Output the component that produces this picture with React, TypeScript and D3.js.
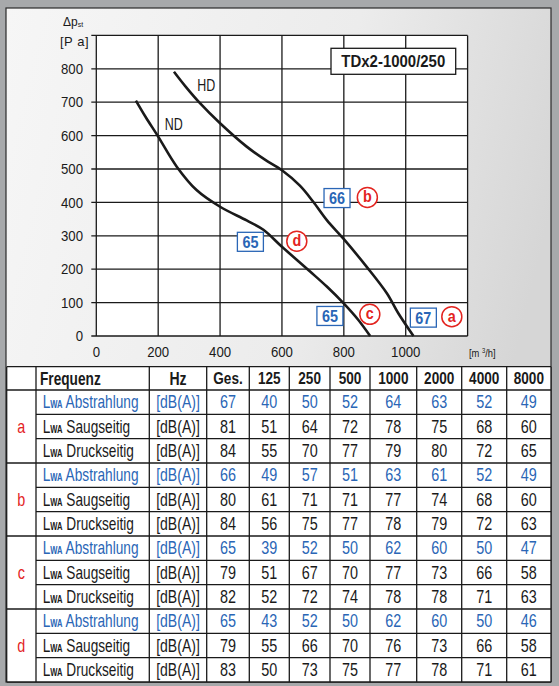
import React from "react";
import * as d3 from "d3";

// ---------- chart data ----------
const flowTicks = [0, 200, 400, 600, 800, 1000];
const flowGrid = [0, 200, 400, 600, 800, 1000, 1200];
const pressureTicks = [0, 100, 200, 300, 400, 500, 600, 700, 800];
const pressureGrid = [0, 100, 200, 300, 400, 500, 600, 700, 800, 900];

// HD curve (flow m3/h, pressure Pa)
const hdCurve: [number, number][] = [
  [251, 791], [290, 745], [335, 697], [400, 637], [486, 567], [545, 528],
  [599, 497], [658, 450], [701, 402], [745, 347], [798, 292], [874, 207],
  [939, 128], [976, 68], [1025, 0],
];
// ND curve
const ndCurve: [number, number][] = [
  [128, 705], [160, 655], [200, 597], [260, 507], [324, 437], [400, 387],
  [486, 346], [540, 318], [599, 268], [691, 193], [745, 148],
  [798, 99], [845, 50], [885, 0],
];
const curveNames = ["HD", "ND"];
const curveNamePos: [number, number][] = [[355, 749], [250, 633]];

// operating point annotations
const pointIds = ["a", "b", "c", "d"];
const pointLevels = [67, 66, 65, 65];
const pointBox: [number, number][] = [[1057, 55], [778, 413], [755, 60], [498, 282]];
const pointCircle: [number, number][] = [[1149, 58], [876, 415], [884, 65], [648, 284]];

// ---------- table data ----------
const bandHeaders = ["Ges.", "125", "250", "500", "1000", "2000", "4000", "8000"];
const rowLabels = ["Abstrahlung", "Saugseitig", "Druckseitig"];
const lwaA = [
  [67, 40, 50, 52, 64, 63, 52, 49],
  [81, 51, 64, 72, 78, 75, 68, 60],
  [84, 55, 70, 77, 79, 80, 72, 65],
];
const lwaB = [
  [66, 49, 57, 51, 63, 61, 52, 49],
  [80, 61, 71, 71, 77, 74, 68, 60],
  [84, 56, 75, 77, 78, 79, 72, 63],
];
const lwaC = [
  [65, 39, 52, 50, 62, 60, 50, 47],
  [79, 51, 67, 70, 77, 73, 66, 58],
  [82, 52, 72, 74, 78, 78, 71, 63],
];
const lwaD = [
  [65, 43, 52, 50, 62, 60, 50, 46],
  [79, 55, 66, 70, 76, 73, 66, 58],
  [83, 50, 73, 75, 77, 78, 71, 61],
];
const groupTables = [lwaA, lwaB, lwaC, lwaD];

// ---------- style ----------
const FONT = "'Liberation Sans', Arial, Helvetica, sans-serif";
const BLUE = "#2a66b6";
const RED = "#e3241f";
const INK = "#1a1a1a";

const W = 559;
const H = 686;

type TProps = {
  x: number; y: number; sx?: number; size?: number; weight?: string | number;
  fill?: string; anchor?: "start" | "middle" | "end"; children: React.ReactNode;
};
function T({ x, y, sx = 0.78, size = 18, weight = "normal", fill = INK, anchor = "middle", children }: TProps) {
  return (
    <text
      transform={`translate(${x},${y}) scale(${sx},1)`}
      textAnchor={anchor}
      fontSize={size}
      fontWeight={weight}
      fill={fill}
      fontFamily={FONT}
      dy="0.35em"
    >
      {children}
    </text>
  );
}

export default function App() {
  const x = d3.scaleLinear().domain([0, 1200]).range([96.3, 467.6]);
  const y = d3.scaleLinear().domain([0, 900]).range([336, 35.4]);
  const line = d3
    .line<[number, number]>()
    .x((d) => x(d[0]))
    .y((d) => y(d[1]))
    .curve(d3.curveCatmullRom.alpha(0.5));

  // table layout
  const colEdges = [6.7, 36, 149.3, 206.7, 249.3, 289.3, 330, 370, 416.7, 461.7, 506.7, 551];
  const tableTop = 366.7;
  const headerBottom = 390;
  const tableBottom = 682;
  const nRows = 12;
  const rowH = (tableBottom - headerBottom) / nRows;
  const colCenter = (i: number) => (colEdges[i] + colEdges[i + 1]) / 2;

  return (
    <svg width={W} height={H} style={{ position: "absolute", left: 0, top: 0 }} fontFamily={FONT}>
      <defs>
        <linearGradient id="panelGrad" x1="0" y1="0" x2="1" y2="0.3">
          <stop offset="0" stopColor="#f6f6f6" />
          <stop offset="0.6" stopColor="#ececec" />
          <stop offset="1" stopColor="#d6d6d6" />
        </linearGradient>
      </defs>
      <rect x={0} y={0} width={W} height={H} fill="#a7a9ab" />
      <rect x={6} y={8} width={545} height={674} fill="url(#panelGrad)" stroke="#2a2a2a" strokeWidth={1.2} />

      {/* plot area */}
      <rect x={x(0)} y={y(900)} width={x(1200) - x(0)} height={y(0) - y(900)} fill="#ffffff" />
      {flowGrid.map((v) => (
        <line key={"vx" + v} x1={x(v)} x2={x(v)} y1={y(0)} y2={y(900)} stroke={INK} strokeWidth={1.3} />
      ))}
      {pressureGrid.map((v) => (
        <line key={"hy" + v} x1={x(0) - 5} x2={x(1200)} y1={y(v)} y2={y(v)} stroke={INK} strokeWidth={1.3} />
      ))}

      {/* tick labels */}
      {pressureTicks.map((v) => (
        <T key={"yl" + v} x={83} y={y(v)} size={15} sx={0.88} anchor="end">{v}</T>
      ))}
      {flowTicks.map((v) => (
        <T key={"xl" + v} x={x(v)} y={352} size={15} sx={0.88}>{v}</T>
      ))}
      <text x={469} y={357} fontSize={11} fill={INK} fontFamily={FONT} transform="translate(469,0) scale(0.85,1) translate(-469,0)">
        [m <tspan fontSize={7} dy={-4}>3</tspan><tspan dy={4}>/h]</tspan>
      </text>
      <text x={63} y={26} fontSize={12} fill={INK} fontFamily={FONT}>
        Δp<tspan fontSize={7} dy={1}>st</tspan>
      </text>
      <text x={60} y={46} fontSize={13} fill={INK} fontFamily={FONT} letterSpacing={0.5}>[P a]</text>

      {/* curves */}
      <path d={line(hdCurve) || ""} fill="none" stroke={INK} strokeWidth={2.6} />
      <path d={line(ndCurve) || ""} fill="none" stroke={INK} strokeWidth={2.6} />
      {curveNames.map((n, i) => (
        <T key={n} x={x(curveNamePos[i][0])} y={y(curveNamePos[i][1])} size={16} sx={0.78}>{n}</T>
      ))}

      {/* title box */}
      <rect x={331} y={48.3} width={124.7} height={26} fill="#ffffff" stroke={INK} strokeWidth={1.3} />
      <T x={393.3} y={61.5} size={17} weight="bold" sx={0.88}>TDx2-1000/250</T>

      {/* annotations */}
      {pointIds.map((id, i) => {
        const bx = x(pointBox[i][0]);
        const by = y(pointBox[i][1]);
        const cx = x(pointCircle[i][0]);
        const cy = y(pointCircle[i][1]);
        return (
          <g key={"pt" + id}>
            <rect x={bx - 13} y={by - 9.5} width={26} height={19} fill="#ffffff" stroke={BLUE} strokeWidth={1.3} />
            <T x={bx} y={by + 0.5} size={16} weight="bold" fill={BLUE} sx={0.9}>{pointLevels[i]}</T>
            <circle cx={cx} cy={cy} r={10} fill="#ffffff" stroke={RED} strokeWidth={1.5} />
            <T x={cx} y={cy - 0.5} size={16} weight="bold" fill={RED} sx={0.9}>{id}</T>
          </g>
        );
      })}

      {/* table */}
      <rect x={colEdges[0]} y={tableTop} width={colEdges[11] - colEdges[0]} height={tableBottom - tableTop} fill="#ffffff" />
      {d3.range(nRows + 2).map((k) => {
        const yy = k === 0 ? tableTop : headerBottom + (k - 1) * rowH;
        const isGroupEdge = k === 0 || k === 1 || (k - 1) % 3 === 0;
        return (
          <line
            key={"th" + k}
            x1={isGroupEdge ? colEdges[0] : colEdges[1]}
            x2={colEdges[11]}
            y1={yy}
            y2={yy}
            stroke={INK}
            strokeWidth={1.3}
          />
        );
      })}
      {colEdges.map((cx, i) => (
        <line key={"tv" + i} x1={cx} x2={cx} y1={tableTop} y2={tableBottom} stroke={INK} strokeWidth={1.3} />
      ))}

      {/* header */}
      <T x={40} y={(tableTop + headerBottom) / 2} size={18} weight="bold" sx={0.76} anchor="start">Frequenz</T>
      <T x={colCenter(2)} y={(tableTop + headerBottom) / 2} size={18} weight="bold" sx={0.78}>Hz</T>
      {bandHeaders.map((b, j) => (
        <T key={"bh" + b} x={colCenter(3 + j)} y={(tableTop + headerBottom) / 2} size={17} weight="bold" sx={0.8}>{b}</T>
      ))}

      {/* body */}
      {groupTables.map((tbl, g) => (
        <g key={"grp" + g}>
          <T x={colCenter(0)} y={headerBottom + (g * 3 + 1.5) * rowH} size={18} fill={RED} sx={0.8}>{pointIds[g]}</T>
          {tbl.map((vals, r) => {
            const cy = headerBottom + (g * 3 + r + 0.5) * rowH;
            const color = r === 0 ? BLUE : INK;
            return (
              <g key={"row" + g + r}>
                <T x={42.7} y={cy} size={18} fill={color} sx={0.76} anchor="start">
                  L<tspan fontSize={10} fontWeight="bold">WA</tspan> {rowLabels[r]}
                </T>
                <T x={colCenter(2)} y={cy} size={18} fill={color} sx={0.78}>[dB(A)]</T>
                {vals.map((v, j) => (
                  <T key={"v" + j} x={colCenter(3 + j)} y={cy} size={18} fill={color} sx={0.8}>{v}</T>
                ))}
              </g>
            );
          })}
        </g>
      ))}
    </svg>
  );
}
